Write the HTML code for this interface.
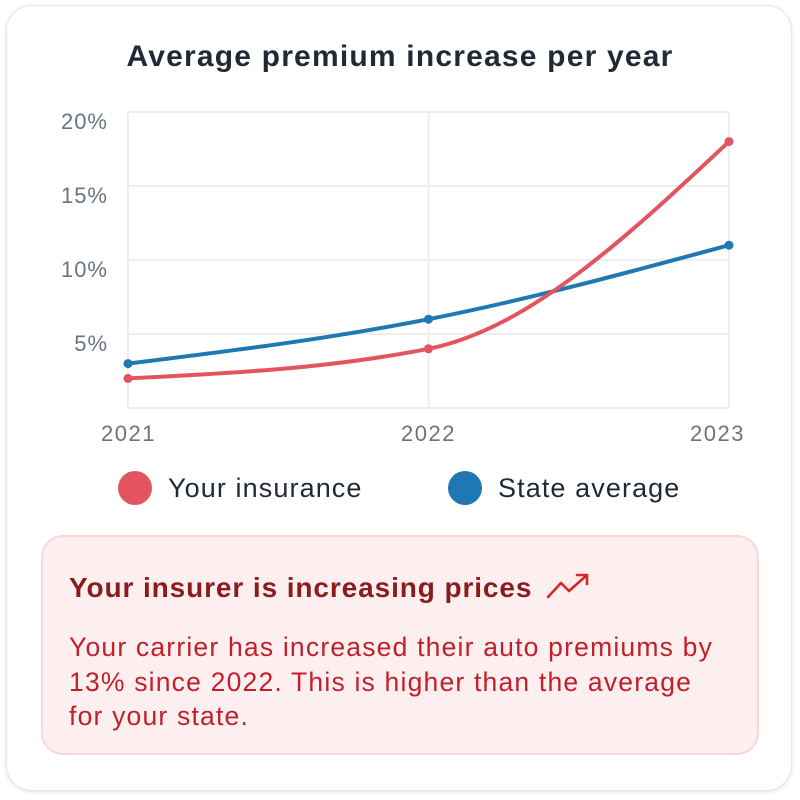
<!DOCTYPE html>
<html><head><meta charset="utf-8"><style>
body{margin:0;width:800px;height:800px;background:#fff;font-family:"Liberation Sans",sans-serif;overflow:hidden}
.card{position:absolute;left:6px;top:5px;width:786px;height:786px;box-sizing:border-box;border:1.5px solid #e5e7eb;border-radius:26px;background:#fff;box-shadow:0 1px 4px rgba(0,0,0,.12)}
.title{position:absolute;left:0;width:800px;top:40px;text-align:center;font-size:30px;letter-spacing:1.2px;font-weight:bold;color:#1f2937}
.alert{position:absolute;left:41px;top:535px;width:718px;height:220px;box-sizing:border-box;border:2px solid #fbd5d8;border-radius:22px;background:#fdeef0}
.ah{position:absolute;left:26px;top:34px;font-size:28px;letter-spacing:0.9px;font-weight:bold;color:#8b1c1c;white-space:nowrap}
.ab{position:absolute;left:26px;top:93px;font-size:26.5px;letter-spacing:1.2px;line-height:34.5px;color:#c0202a;white-space:nowrap}
</style></head><body>
<div class="card"></div>
<div class="title">Average premium increase per year</div>
<svg id="chart" width="800" height="520" style="position:absolute;left:0;top:0"></svg>
<div class="alert">
<div class="ah">Your insurer is increasing prices
<svg width="50" height="30" style="vertical-align:-4px;margin-left:4px"><path d="M3 26 L16 12 L24 20 L42 4 M32 4 L42 4 L42 13" fill="none" stroke="#dc2626" stroke-width="2.6" stroke-linecap="round" stroke-linejoin="round"/></svg></div>
<div class="ab">Your carrier has increased their auto premiums by<br>13% since 2022. This is higher than the average<br>for your state.</div>
</div>
<script>
const years=["2021","2022","2023"];
const yourValues=[2,4,18];
const stateValues=[3,6,11];
const yTicks=[5,10,15,20];
const yTickLabels=["5%","10%","15%","20%"];
const seriesNames=["Your insurance","State average"];
const NS="http://www.w3.org/2000/svg";
const svg=document.getElementById('chart');
const x0=128,x1=729,yb=408,yt=112,ymax=20;
const X=i=>x0+(x1-x0)*i/(years.length-1);
const Y=v=>yb-(yb-yt)*v/ymax;
function mk(t,a,p){const e=document.createElementNS(NS,t);for(const k in a)e.setAttribute(k,a[k]);(p||svg).appendChild(e);return e;}
for(let i=0;i<yTicks.length;i++){
const g=mk('line',{x1:x0,x2:x1,y1:Y(yTicks[i]),y2:Y(yTicks[i]),stroke:'#eeeeee','stroke-width':2});


const t=mk('text',{x:108,y:Y(yTicks[i])+17,'text-anchor':'end','font-size':22,'letter-spacing':1,fill:'#6b7280'});
t.textContent=yTickLabels[i];


}
const b=mk('line',{x1:x0,x2:x1,y1:yb,y2:yb,stroke:'#eeeeee','stroke-width':2});


for(let i=0;i<years.length;i++){
const g=mk('line',{x1:X(i),x2:X(i),y1:yt,y2:yb,stroke:'#eeeeee','stroke-width':2});


const t=mk('text',{x:X(i),y:441,'text-anchor':i==0?'start':(i==years.length-1?'end':'middle'),'font-size':22,'letter-spacing':1.5,fill:'#6b7280',dx:i==0?-27:(i==years.length-1?16:0)});
t.textContent=years[i];


}
function monotone(pts){
const n=pts.length,d=[],m=[];
for(let i=0;i<n-1;i++)d.push((pts[i+1][1]-pts[i][1])/(pts[i+1][0]-pts[i][0]));
for(let i=1;i<n-1;i++){const h0=pts[i][0]-pts[i-1][0],h1=pts[i+1][0]-pts[i][0];const p=(d[i-1]*h1+d[i]*h0)/(h0+h1);m[i]=(Math.sign(d[i-1])+Math.sign(d[i]))*Math.min(Math.abs(d[i-1]),Math.abs(d[i]),0.5*Math.abs(p))||0;}
m[0]=(3*d[0]-m[1])/2;m[n-1]=(3*d[n-2]-m[n-2])/2;
let s='M'+pts[0][0]+','+pts[0][1];
for(let i=0;i<n-1;i++){const h=(pts[i+1][0]-pts[i][0])/3;s+=' C'+(pts[i][0]+h)+','+(pts[i][1]+h*m[i])+' '+(pts[i+1][0]-h)+','+(pts[i+1][1]-h*m[i+1])+' '+pts[i+1][0]+','+pts[i+1][1];}
return s;}
function series(vals,color,name){
const pts=vals.map((v,i)=>[X(i),Y(v)]);
const p=mk('path',{d:monotone(pts),fill:'none',stroke:color,'stroke-width':4});


pts.forEach(q=>{const c=mk('circle',{cx:q[0],cy:q[1],r:4.5,fill:color});

});
}
series(stateValues,'#1f77b4','state-average');
series(yourValues,'#e35461','your-insurance');
const legendColors=['#e35461','#1f77b4'];
const lx=[135,465];
for(let i=0;i<2;i++){
const c=mk('circle',{cx:lx[i],cy:488,r:17,fill:legendColors[i]});


const t=mk('text',{x:lx[i]+33,y:497,'font-size':27,'letter-spacing':1.1,fill:'#1f2937'});
t.textContent=seriesNames[i];


}
</script>
</body></html>
